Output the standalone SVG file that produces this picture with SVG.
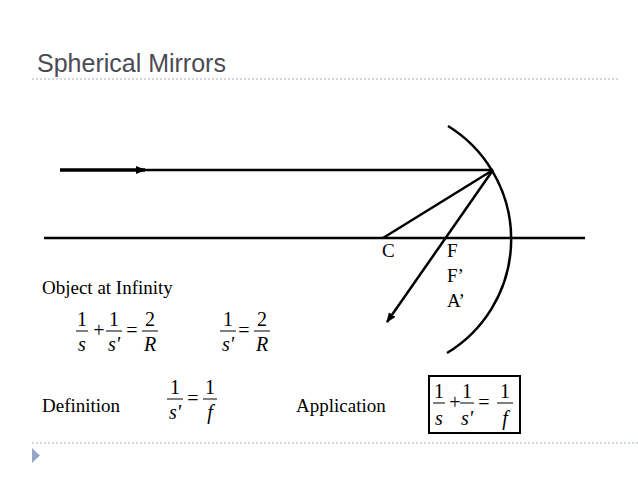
<svg xmlns="http://www.w3.org/2000/svg" width="638" height="479" viewBox="0 0 638 479">
<defs>
<marker id="ah" markerWidth="10" markerHeight="8" refX="9" refY="4" orient="auto" markerUnits="userSpaceOnUse"><path d="M0,0 L10,4 L0,8 Z" fill="#000"/></marker>
</defs>
<style>
.t{font-family:'Liberation Serif','Times New Roman',serif;font-size:19px;fill:#000}
.m{font-family:'Liberation Serif','Times New Roman',serif;font-size:20px;fill:#000;text-anchor:middle}
.i{font-style:italic}
.fl{stroke:#000;stroke-width:1}
.ln{stroke:#000;stroke-width:2.5;fill:none}
</style>
<rect width="638" height="479" fill="#fff"/>
<text x="37" y="72" font-family="Liberation Sans,Arial,sans-serif" font-size="25" fill="#4a4a55">Spherical Mirrors</text>
<line x1="32" y1="79" x2="620" y2="79" stroke="#9fb0c0" stroke-width="1" stroke-dasharray="2,2"/>
<line x1="32" y1="443" x2="638" y2="443" stroke="#9fb0c0" stroke-width="1" stroke-dasharray="2,2"/>
<path d="M32,448 L40,455.5 L32,463 Z" fill="#94a8c4"/>
<g id="connectors">
<line class="ln" x1="44" y1="238" x2="585" y2="238"/>
<line x1="60" y1="170" x2="145" y2="170" stroke="#000" stroke-width="3.5" marker-end="url(#ah)"/>
<line class="ln" x1="140" y1="170" x2="493" y2="170"/>
<line class="ln" x1="493" y1="170" x2="383" y2="238"/>
<line class="ln" x1="493" y1="170" x2="387" y2="322" marker-end="url(#ah)"/>
</g>
<g id="mirror"><path class="ln" d="M448,126 A133,133 0 0 1 447,353"/></g>
<g id="labels">
<text class="t" x="382" y="257">C</text>
<text class="t" x="447" y="257">F</text>
<text class="t" x="447" y="282">F’</text>
<text class="t" x="447" y="307">A’</text>
<text class="t" x="42" y="294">Object at Infinity</text>
<text class="t" x="42" y="412">Definition</text>
<text class="t" x="296" y="412">Application</text>
</g>
<g id="eq1">
<text class="m" x="82" y="326">1</text><line class="fl" x1="76" y1="331" x2="88" y2="331"/><text class="m i" x="82" y="351">s</text>
<text class="m" x="99" y="337">+</text>
<text class="m" x="114" y="326">1</text><line class="fl" x1="106" y1="331" x2="122" y2="331"/><text class="m i" x="114" y="351">s'</text>
<text class="m" x="132" y="337">=</text>
<text class="m" x="150" y="326">2</text><line class="fl" x1="142" y1="331" x2="158" y2="331"/><text class="m i" x="150" y="351">R</text>
</g>
<g id="eq2">
<text class="m" x="228" y="326">1</text><line class="fl" x1="220" y1="331" x2="236" y2="331"/><text class="m i" x="228" y="351">s'</text>
<text class="m" x="244" y="337">=</text>
<text class="m" x="262" y="326">2</text><line class="fl" x1="254" y1="331" x2="270" y2="331"/><text class="m i" x="262" y="351">R</text>
</g>
<g id="eq3">
<text class="m" x="175" y="394">1</text><line class="fl" x1="167" y1="399" x2="183" y2="399"/><text class="m i" x="175" y="419">s'</text>
<text class="m" x="193" y="405">=</text>
<text class="m" x="210" y="394">1</text><line class="fl" x1="203" y1="399" x2="217" y2="399"/><text class="m i" x="210" y="419">f</text>
</g>
<g id="eq4">
<rect x="429" y="376" width="91" height="57" fill="none" stroke="#000" stroke-width="2"/>
<text class="m" x="439" y="398">1</text><line class="fl" x1="433" y1="403" x2="445" y2="403"/><text class="m i" x="439" y="425">s</text>
<text class="m" x="455" y="409">+</text>
<text class="m" x="467" y="398">1</text><line class="fl" x1="460" y1="403" x2="474" y2="403"/><text class="m i" x="467" y="425">s'</text>
<text class="m" x="484" y="409">=</text>
<text class="m" x="505" y="398">1</text><line class="fl" x1="497" y1="403" x2="513" y2="403"/><text class="m i" x="505" y="425">f</text>
</g>
</svg>
